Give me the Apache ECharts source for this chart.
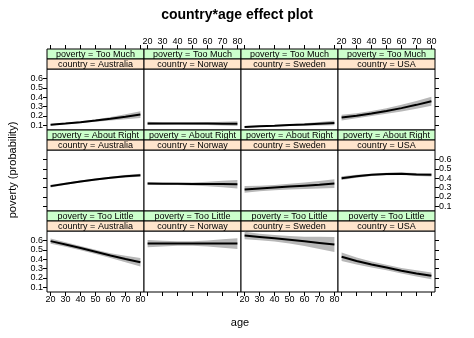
<!DOCTYPE html>
<html><head><meta charset="utf-8">
<script src="https://cdn.jsdelivr.net/npm/echarts@6/dist/echarts.min.js"></script>
<style>html,body{margin:0;padding:0;background:#fff}#c{width:474px;height:338px}</style>
</head><body><div id="c"></div>
<script>
const ages = [20, 30, 40, 50, 60, 70, 80];
const countries = ['Australia', 'Norway', 'Sweden', 'USA'];
const povertyLevels = ['Too Much', 'About Right', 'Too Little'];
const xTicks = [20, 30, 40, 50, 60, 70, 80];
const yTicks = [0.1, 0.2, 0.3, 0.4, 0.5, 0.6];

// fitted probabilities, one array per country (Australia, Norway, Sweden, USA)
const fitTooMuch = [
  [0.105, 0.118, 0.133, 0.150, 0.170, 0.191, 0.214],
  [0.120, 0.119, 0.119, 0.118, 0.118, 0.117, 0.117],
  [0.083, 0.089, 0.095, 0.102, 0.109, 0.117, 0.125],
  [0.182, 0.202, 0.226, 0.253, 0.283, 0.318, 0.357]
];
const fitAboutRight = [
  [0.315, 0.340, 0.365, 0.385, 0.405, 0.420, 0.430],
  [0.342, 0.341, 0.340, 0.339, 0.338, 0.337, 0.336],
  [0.280, 0.290, 0.300, 0.310, 0.320, 0.330, 0.342],
  [0.400, 0.420, 0.435, 0.445, 0.447, 0.440, 0.435]
];
const fitTooLittle = [
  [0.592, 0.556, 0.518, 0.478, 0.438, 0.402, 0.368],
  [0.566, 0.566, 0.566, 0.566, 0.566, 0.566, 0.566],
  [0.651, 0.637, 0.622, 0.606, 0.590, 0.573, 0.556],
  [0.426, 0.381, 0.343, 0.311, 0.277, 0.248, 0.223]
];
// half-widths of the confidence bands
const ciTooMuch = [
  [0.008, 0.008, 0.009, 0.012, 0.018, 0.026, 0.036],
  [0.018, 0.012, 0.010, 0.011, 0.015, 0.020, 0.025],
  [0.010, 0.008, 0.008, 0.010, 0.014, 0.019, 0.025],
  [0.030, 0.027, 0.027, 0.030, 0.035, 0.042, 0.048]
];
const ciAboutRight = [
  [0.014, 0.011, 0.010, 0.010, 0.011, 0.013, 0.016],
  [0.015, 0.012, 0.012, 0.016, 0.025, 0.035, 0.045],
  [0.036, 0.030, 0.028, 0.030, 0.035, 0.040, 0.046],
  [0.020, 0.015, 0.013, 0.013, 0.014, 0.016, 0.018]
];
const ciTooLittle = [
  [0.028, 0.024, 0.022, 0.022, 0.026, 0.035, 0.045],
  [0.038, 0.030, 0.024, 0.024, 0.032, 0.045, 0.058],
  [0.040, 0.035, 0.035, 0.040, 0.050, 0.065, 0.080],
  [0.045, 0.037, 0.032, 0.030, 0.030, 0.033, 0.036]
];

const fits = [fitTooMuch, fitAboutRight, fitTooLittle];
const cis = [ciTooMuch, ciAboutRight, ciTooLittle];

const FONT = 'Liberation Sans, Arial, sans-serif';
const colLeft = [47, 144, 241, 338];
const panelW = 97;
const rowTop = [69, 150, 231];
const panelH = 61;
const stripH = 10;

const grids = [], xAxes = [], yAxes = [], series = [], graphics = [];
let idx = 0;
for (let r = 0; r < 3; r++) {
  for (let c = 0; c < 4; c++) {
    const i = idx++;
    grids.push({left: colLeft[c], top: rowTop[r], width: panelW, height: panelH,
      show: true, borderColor: '#000', borderWidth: 1, backgroundColor: '#fff', containLabel: false});
    const xTickShow = (r === 0 || r === 2);
    const xLabShow = (r === 0 && c % 2 === 1) || (r === 2 && c % 2 === 0);
    xAxes.push({gridIndex: i, type: 'value', min: 17.6, max: 82.4,
      position: r === 0 ? 'top' : 'bottom', offset: r === 0 ? 2 * stripH : 0,
      axisLine: {show: false}, splitLine: {show: false},
      axisTick: {show: xTickShow, customValues: xTicks, length: 4, lineStyle: {color: '#000'}},
      axisLabel: {show: xLabShow, customValues: xTicks, fontSize: 9, color: '#000', fontFamily: FONT, margin: 3}});
    const yTickShow = (c === 0 || c === 3);
    const yLabShow = (c === 0 && r !== 1) || (c === 3 && r === 1);
    yAxes.push({gridIndex: i, type: 'value', min: 0.05, max: 0.70,
      position: c === 3 ? 'right' : 'left',
      axisLine: {show: false}, splitLine: {show: false},
      axisTick: {show: yTickShow, customValues: yTicks, length: 4, lineStyle: {color: '#000'}},
      axisLabel: {show: yLabShow, customValues: yTicks, fontSize: 9, color: '#000', fontFamily: FONT, margin: 4,
        formatter: v => v.toFixed(1)}});
    const fit = fits[r][c], ci = cis[r][c];
    const band = ages.map((a, k) => [a, fit[k] - ci[k], fit[k] + ci[k]]);
    series.push({type: 'custom', xAxisIndex: i, yAxisIndex: i, data: band, silent: true, clip: true,
      renderItem: function (params, api) {
        if (params.dataIndex !== 0) return null;
        const pts = [];
        band.forEach(d => pts.push(api.coord([d[0], d[2]])));
        for (let k = band.length - 1; k >= 0; k--) pts.push(api.coord([band[k][0], band[k][1]]));
        return {type: 'polygon', shape: {points: pts, smooth: 0},
          style: {fill: '#b8b8b8', stroke: null}};
      }});
    series.push({type: 'line', xAxisIndex: i, yAxisIndex: i, data: ages.map((a, k) => [a, fit[k]]),
      symbol: 'none', silent: true, lineStyle: {color: '#000', width: 2}, z: 5});
    // strips
    const sx = colLeft[c], sy = rowTop[r] - 2 * stripH;
    graphics.push({type: 'rect', shape: {x: sx, y: sy, width: panelW, height: stripH},
      style: {fill: '#ccffcc', stroke: '#000', lineWidth: 1}});
    graphics.push({type: 'rect', shape: {x: sx, y: sy + stripH, width: panelW, height: stripH},
      style: {fill: '#ffe5cc', stroke: '#000', lineWidth: 1}});
    graphics.push({type: 'text', x: sx + panelW / 2, y: sy + stripH / 2 + 0.5,
      style: {text: 'poverty = ' + povertyLevels[r], fill: '#000', font: '9px ' + FONT, align: 'center', verticalAlign: 'middle'}});
    graphics.push({type: 'text', x: sx + panelW / 2, y: sy + 1.5 * stripH + 0.5,
      style: {text: 'country = ' + countries[c], fill: '#000', font: '9px ' + FONT, align: 'center', verticalAlign: 'middle'}});
  }
}
graphics.push({type: 'text', x: 240, y: 323,
  style: {text: 'age', fill: '#000', font: '11px ' + FONT, align: 'center', verticalAlign: 'middle'}});
graphics.push({type: 'text', x: 13, y: 170, rotation: Math.PI / 2,
  style: {text: 'poverty (probability)', fill: '#000', font: '11px ' + FONT, align: 'center', verticalAlign: 'middle'}});

const chart = echarts.init(document.getElementById('c'), null, {renderer: 'canvas'});
chart.setOption({
  animation: false,
  backgroundColor: '#fff',
  title: {text: 'country*age effect plot', left: 'center', top: 3,
    textStyle: {fontSize: 14, fontWeight: 'bold', color: '#000', fontFamily: FONT}},
  grid: grids, xAxis: xAxes, yAxis: yAxes, series: series, graphic: graphics
});
</script></body></html>
